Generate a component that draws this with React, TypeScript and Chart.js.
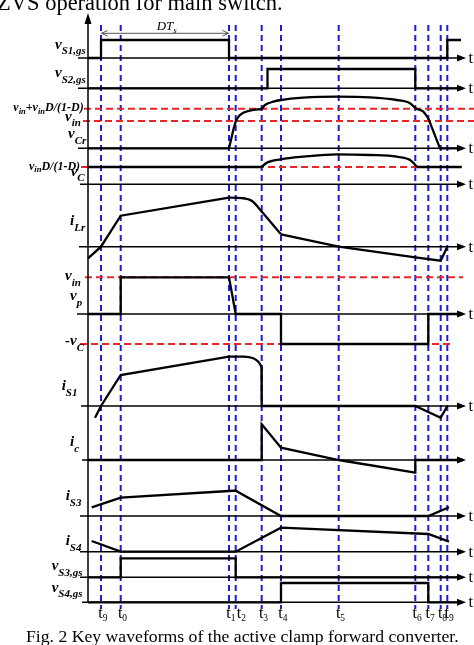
import React, { useEffect, useRef } from 'react';
import { Chart, registerables } from 'chart.js';
Chart.register(...registerables);

type Pt = [number, number];

// ---- time instants (time units measured from the vertical axis) ----
const instantLabels = ['9', '0', '1', '2', '3', '4', '5', '6', '7', '8', '9'];
const instantTimes = [13, 32.7, 141, 147.7, 173.7, 193, 250.7, 327.3, 340.3, 352.7, 359.3];

// ---- panels (zero line of every waveform row) ----
const panelNames = ['vS1gs', 'vS2gs', 'vCr', 'vC', 'iLr', 'vp', 'iS1', 'ic', 'iS3', 'iS4', 'vS3gs', 'vS4gs'];
const panelZero = [58, 88.3, 148.3, 184.3, 246.7, 314, 406, 460, 516, 551.7, 577.3, 602.3];
const panelAxisStart = [-10, -10, -10, -8, -9, -11, -7, -6, -8, -8, -8, -6];
const panelHasT = [true, true, true, true, true, true, true, false, true, true, true, true];

// ---- waveforms: [time, amplitude] ----
const vS1gs: Pt[] = [[0, 0], [13, 0], [13, 18], [141, 18], [141, 0], [359.3, 0], [359.3, 18], [373, 18]];
const vS2gs: Pt[] = [[0, 0], [179.5, 0], [179.5, 19.3], [327.3, 19.3], [327.3, 0], [375, 0]];
const vCrFlat: Pt[] = [[0, 0], [141, 0]];
const vCrRise: Pt[] = [[141, 0], [147.7, 26.6], [152, 33.3], [162, 37.6], [173.7, 39.3]];
const vCrTop: Pt[] = [[173.7, 39.3], [177, 43.3], [185.3, 46.6], [193, 48.3], [215.3, 50.6], [249.3, 51.6], [282, 51], [308.7, 48.3], [322, 45], [327.7, 40], [335.3, 36.6], [340.3, 30]];
const vCrFall: Pt[] = [[340.3, 30], [352, 0], [375, 0]];
const vCFlatA: Pt[] = [[0, 17.3], [173.7, 17.3]];
const vCArc: Pt[] = [[173.7, 17.3], [178.7, 21.6], [193, 25], [215.3, 27.6], [249.3, 30], [282, 29.3], [308.7, 27.6], [322, 24.3], [327.3, 19.3], [329, 17.3]];
const vCFlatB: Pt[] = [[329, 17.3], [373.7, 17.3]];
const iLrA: Pt[] = [[0, -11.6], [13, 0], [32.7, 31], [141, 49]];
const iLrTop: Pt[] = [[141, 49], [150, 48.9], [157, 48.2], [162, 46.8], [166, 44], [170, 39.5], [193, 12.4]];
const iLrB: Pt[] = [[193, 12.4], [250.7, 0], [327.3, -10.6], [352.7, -14], [359.3, 0]];
const vp: Pt[] = [[0, 0], [32.7, 0], [32.7, 36.7], [141, 36.7], [147.7, 0], [193, 0], [193, -30], [340.3, -30], [340.3, 0], [375, 0]];
const iS1A: Pt[] = [[7, -11.7], [13, 0], [32.7, 31], [141, 49.3]];
const iS1Top: Pt[] = [[141, 49.3], [155.3, 49.3], [165.3, 47.7], [170.3, 44.3], [173.5, 39.3]];
const iS1B: Pt[] = [[173.5, 39.3], [173.7, 0], [327.3, 0], [352.7, -11.7], [359.3, 0]];
const ic: Pt[] = [[0, 0], [173.7, 0], [173.7, 35.7], [193, 12.3], [250.7, 0], [327.3, -12.7], [327.3, 0], [375, 0]];
const iS3: Pt[] = [[3.7, 8.7], [32.7, 18.3], [141, 25], [147.7, 25.3], [193, 0], [340.3, 0], [361, 8.7]];
const iS4: Pt[] = [[3.7, 10.7], [32.7, 0], [147.7, 0], [193, 24], [340.3, 17.7], [361, 10]];
const vS3gs: Pt[] = [[0, 0], [32.7, 0], [32.7, 19], [147.7, 19], [147.7, 0], [375, 0]];
const vS4gs: Pt[] = [[0, 0], [193, 0], [193, 19.3], [340.3, 19.3], [340.3, 0], [375, 0]];

// [panel index, points, smooth]
const traces: [number, Pt[], boolean][] = [
  [0, vS1gs, false], [1, vS2gs, false],
  [2, vCrFlat, false], [2, vCrRise, true], [2, vCrTop, true], [2, vCrFall, false],
  [3, vCFlatA, false], [3, vCArc, true], [3, vCFlatB, false],
  [4, iLrA, false], [4, iLrTop, true], [4, iLrB, false],
  [5, vp, false],
  [6, iS1A, false], [6, iS1Top, true], [6, iS1B, false],
  [7, ic, false], [8, iS3, false], [9, iS4, false], [10, vS3gs, false], [11, vS4gs, false],
];

// ---- reference levels (red dashed): [panel, amplitude, from, to] ----
const refLevels: [number, number, number, number][] = [
  [2, 39.6, -4, 386], [2, 27.3, -5, 386], [3, 17.3, -7, 373.7], [5, 36.7, -3, 375], [5, -30, -8, 362],
];

const FONT = '"Liberation Serif", "Times New Roman", "DejaVu Serif", serif';
const BLUE = 'rgb(28,28,215)';
const RED = 'rgb(232,38,40)';

const datasets: any[] = [];
traces.forEach(([p, pts, smooth]) => {
  datasets.push({
    data: pts.map(([t, a]) => ({ x: t, y: panelZero[p] - a })),
    borderColor: '#000', borderWidth: 2.3, pointRadius: 0, fill: false, tension: 0,
    cubicInterpolationMode: smooth ? 'monotone' : 'default', clip: false, borderJoinStyle: 'miter',
  });
});
// horizontal time axes
panelZero.forEach((z, i) => {
  datasets.push({
    data: [{ x: panelAxisStart[i], y: z }, { x: 372, y: z }],
    borderColor: '#000', borderWidth: 1.5, pointRadius: 0, clip: false,
  });
});
// vertical axis
datasets.push({ data: [{ x: 0, y: 20 }, { x: 0, y: 602.3 }], borderColor: '#000', borderWidth: 1.5, pointRadius: 0, clip: false });
refLevels.forEach(([p, a, f, t]) => {
  datasets.push({
    data: [{ x: f, y: panelZero[p] - a }, { x: t, y: panelZero[p] - a }],
    borderColor: RED, borderWidth: 2, borderDash: [7, 4], pointRadius: 0, clip: false,
  });
});
instantTimes.forEach((t) => {
  datasets.push({
    data: [{ x: t, y: 25 }, { x: t, y: 609 }],
    borderColor: BLUE, borderWidth: 2, borderDash: [6, 4], pointRadius: 0, clip: false,
  });
});

type Part = [string, boolean];
const panelLabels: { parts: Part[]; x: number; y: number; small?: boolean }[] = [
  { parts: [['v', false], ['S1,gs', true]], x: 55, y: 48.5 },
  { parts: [['v', false], ['S2,gs', true]], x: 55, y: 77 },
  { parts: [['v', false], ['in', true], ['+v', false], ['in', true], ['D/(1-D)', false]], x: 13.3, y: 111, small: true },
  { parts: [['v', false], ['in', true]], x: 65, y: 120.7 },
  { parts: [['v', false], ['Cr', true]], x: 68, y: 138.3 },
  { parts: [['v', false], ['in', true], ['D/(1-D)', false]], x: 29, y: 169.5, small: true },
  { parts: [['v', false], ['C', true]], x: 70.7, y: 175.5 },
  { parts: [['i', false], ['Lr', true]], x: 70, y: 225 },
  { parts: [['v', false], ['in', true]], x: 65, y: 280 },
  { parts: [['v', false], ['p', true]], x: 70, y: 300 },
  { parts: [['-v', false], ['C', true]], x: 65, y: 345 },
  { parts: [['i', false], ['S1', true]], x: 61.7, y: 390 },
  { parts: [['i', false], ['c', true]], x: 70, y: 446 },
  { parts: [['i', false], ['S3', true]], x: 65.7, y: 500 },
  { parts: [['i', false], ['S4', true]], x: 65.7, y: 545 },
  { parts: [['v', false], ['S3,gs', true]], x: 51.7, y: 570 },
  { parts: [['v', false], ['S4,gs', true]], x: 51.7, y: 591.5 },
];

function rich(ctx: CanvasRenderingContext2D, x: number, y: number, parts: Part[], style: string, main: number, sub: number, drop: number) {
  let cx = x;
  for (const [txt, isSub] of parts) {
    ctx.font = `${style} ${isSub ? sub : main}px ${FONT}`;
    ctx.fillText(txt, cx, isSub ? y + drop : y);
    cx += ctx.measureText(txt).width;
  }
}

const overlay = {
  id: 'overlay',
  afterDraw(chart: any) {
    const ctx: CanvasRenderingContext2D = chart.ctx;
    const xs = chart.scales.x;
    const ys = chart.scales.y;
    const X = (t: number) => xs.getPixelForValue(t);
    const Y = (v: number) => ys.getPixelForValue(v);
    ctx.save();
    ctx.fillStyle = '#000';
    ctx.textBaseline = 'alphabetic';
    ctx.textAlign = 'left';
    // arrowheads on time axes
    panelZero.forEach((z, i) => {
      const y = Y(z);
      const tip = X(378);
      ctx.beginPath();
      ctx.moveTo(tip, y);
      ctx.lineTo(tip - 9, y - 3.5);
      ctx.lineTo(tip - 9, y + 3.5);
      ctx.closePath();
      ctx.fill();
      if (panelHasT[i]) {
        ctx.font = `16px ${FONT}`;
        ctx.fillText('t', tip + 2.5, y + 5);
      }
    });
    // vertical axis arrow
    const ax = X(0);
    ctx.beginPath();
    ctx.moveTo(ax, Y(13));
    ctx.lineTo(ax - 3.5, Y(24));
    ctx.lineTo(ax + 3.5, Y(24));
    ctx.closePath();
    ctx.fill();
    // labels
    panelLabels.forEach((l) => {
      if (l.small) rich(ctx, l.x, Y(l.y), l.parts, 'italic bold', 12, 8.5, 2.8);
      else rich(ctx, l.x, Y(l.y), l.parts, 'italic bold', 15, 11, 5.5);
    });
    // instants at the bottom
    instantTimes.forEach((t, i) => {
      let x = X(t) - 2.8;
      if (i === 3) x = X(t) + 1;
      rich(ctx, x, Y(618), [['t', false], [instantLabels[i], true]], '', 16, 9.5, 3);
    });
    // DT_s dimension arrow
    ctx.strokeStyle = '#555';
    ctx.lineWidth = 1;
    const ay = Y(33.3);
    const a0 = X(instantTimes[0]) + 0.5;
    const a1 = X(instantTimes[2]) - 0.5;
    ctx.beginPath();
    ctx.moveTo(a0, ay); ctx.lineTo(a1, ay);
    ctx.moveTo(a0 + 6, ay - 2.8); ctx.lineTo(a0, ay); ctx.lineTo(a0 + 6, ay + 2.8);
    ctx.moveTo(a1 - 6, ay - 2.8); ctx.lineTo(a1, ay); ctx.lineTo(a1 - 6, ay + 2.8);
    ctx.stroke();
    rich(ctx, 156.7, Y(30), [['DT', false], ['s', true]], 'italic', 13, 9, 2.5);
    // title remnant and caption
    ctx.font = `22.5px ${FONT}`;
    ctx.fillText('ZVS operation for main switch.', -3, Y(10));
    ctx.font = `17.7px ${FONT}`;
    ctx.fillText('Fig. 2 Key waveforms of the active clamp forward converter.', 26, Y(641.5));
    ctx.restore();
  },
};

export default function App() {
  const ref = useRef<HTMLCanvasElement>(null);
  useEffect(() => {
    if (!ref.current) return;
    const chart = new Chart(ref.current, {
      type: 'line',
      data: { datasets },
      options: {
        animation: false,
        responsive: false,
        events: [],
        layout: { padding: 0 },
        plugins: { legend: { display: false }, tooltip: { enabled: false }, title: { display: false } },
        scales: {
          x: { type: 'linear', min: -88, max: 386, display: false },
          y: { type: 'linear', min: 0, max: 645, reverse: true, display: false },
        },
      },
      plugins: [overlay],
    } as any);
    return () => chart.destroy();
  }, []);
  return (
    <div style={{ position: 'absolute', left: 0, top: 0, width: 474, height: 645, background: '#fff' }}>
      <canvas ref={ref} width={474} height={645} style={{ display: 'block', width: 474, height: 645 }} />
    </div>
  );
}
